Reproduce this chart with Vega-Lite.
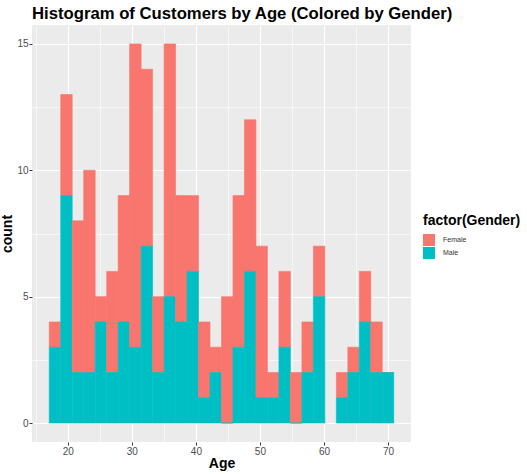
{
  "$schema": "https://vega.github.io/schema/vega-lite/v6.json",
  "width": 379,
  "height": 417,
  "autosize": "none",
  "padding": {"left": 32, "top": 25, "right": 116, "bottom": 32},
  "background": "white",
  "title": {
    "text": "Histogram of Customers by Age (Colored by Gender)",
    "anchor": "start",
    "frame": "group",
    "font": "Liberation Sans",
    "fontSize": 16.7,
    "fontWeight": "bold",
    "color": "black",
    "baseline": "alphabetic",
    "offset": 6,
    "dy": 17
  },
  "config": {
    "view": {"fill": "#EBEBEB", "stroke": null},
    "axis": {"domain": false}
  },
  "data": {
    "values": [
      {"bin_start": 17.103, "bin_end": 18.897, "gender": "Female", "count": 1},
      {"bin_start": 17.103, "bin_end": 18.897, "gender": "Male", "count": 3},
      {"bin_start": 18.897, "bin_end": 20.690, "gender": "Female", "count": 4},
      {"bin_start": 18.897, "bin_end": 20.690, "gender": "Male", "count": 9},
      {"bin_start": 20.690, "bin_end": 22.483, "gender": "Female", "count": 6},
      {"bin_start": 20.690, "bin_end": 22.483, "gender": "Male", "count": 2},
      {"bin_start": 22.483, "bin_end": 24.276, "gender": "Female", "count": 8},
      {"bin_start": 22.483, "bin_end": 24.276, "gender": "Male", "count": 2},
      {"bin_start": 24.276, "bin_end": 26.069, "gender": "Female", "count": 1},
      {"bin_start": 24.276, "bin_end": 26.069, "gender": "Male", "count": 4},
      {"bin_start": 26.069, "bin_end": 27.862, "gender": "Female", "count": 4},
      {"bin_start": 26.069, "bin_end": 27.862, "gender": "Male", "count": 2},
      {"bin_start": 27.862, "bin_end": 29.655, "gender": "Female", "count": 5},
      {"bin_start": 27.862, "bin_end": 29.655, "gender": "Male", "count": 4},
      {"bin_start": 29.655, "bin_end": 31.448, "gender": "Female", "count": 12},
      {"bin_start": 29.655, "bin_end": 31.448, "gender": "Male", "count": 3},
      {"bin_start": 31.448, "bin_end": 33.241, "gender": "Female", "count": 7},
      {"bin_start": 31.448, "bin_end": 33.241, "gender": "Male", "count": 7},
      {"bin_start": 33.241, "bin_end": 35.034, "gender": "Female", "count": 3},
      {"bin_start": 33.241, "bin_end": 35.034, "gender": "Male", "count": 2},
      {"bin_start": 35.034, "bin_end": 36.828, "gender": "Female", "count": 10},
      {"bin_start": 35.034, "bin_end": 36.828, "gender": "Male", "count": 5},
      {"bin_start": 36.828, "bin_end": 38.621, "gender": "Female", "count": 5},
      {"bin_start": 36.828, "bin_end": 38.621, "gender": "Male", "count": 4},
      {"bin_start": 38.621, "bin_end": 40.414, "gender": "Female", "count": 3},
      {"bin_start": 38.621, "bin_end": 40.414, "gender": "Male", "count": 6},
      {"bin_start": 40.414, "bin_end": 42.207, "gender": "Female", "count": 3},
      {"bin_start": 40.414, "bin_end": 42.207, "gender": "Male", "count": 1},
      {"bin_start": 42.207, "bin_end": 44.000, "gender": "Female", "count": 1},
      {"bin_start": 42.207, "bin_end": 44.000, "gender": "Male", "count": 2},
      {"bin_start": 44.000, "bin_end": 45.793, "gender": "Female", "count": 5},
      {"bin_start": 44.000, "bin_end": 45.793, "gender": "Male", "count": 0},
      {"bin_start": 45.793, "bin_end": 47.586, "gender": "Female", "count": 6},
      {"bin_start": 45.793, "bin_end": 47.586, "gender": "Male", "count": 3},
      {"bin_start": 47.586, "bin_end": 49.379, "gender": "Female", "count": 6},
      {"bin_start": 47.586, "bin_end": 49.379, "gender": "Male", "count": 6},
      {"bin_start": 49.379, "bin_end": 51.172, "gender": "Female", "count": 6},
      {"bin_start": 49.379, "bin_end": 51.172, "gender": "Male", "count": 1},
      {"bin_start": 51.172, "bin_end": 52.966, "gender": "Female", "count": 1},
      {"bin_start": 51.172, "bin_end": 52.966, "gender": "Male", "count": 1},
      {"bin_start": 52.966, "bin_end": 54.759, "gender": "Female", "count": 3},
      {"bin_start": 52.966, "bin_end": 54.759, "gender": "Male", "count": 3},
      {"bin_start": 54.759, "bin_end": 56.552, "gender": "Female", "count": 2},
      {"bin_start": 54.759, "bin_end": 56.552, "gender": "Male", "count": 0},
      {"bin_start": 56.552, "bin_end": 58.345, "gender": "Female", "count": 2},
      {"bin_start": 56.552, "bin_end": 58.345, "gender": "Male", "count": 2},
      {"bin_start": 58.345, "bin_end": 60.138, "gender": "Female", "count": 2},
      {"bin_start": 58.345, "bin_end": 60.138, "gender": "Male", "count": 5},
      {"bin_start": 61.931, "bin_end": 63.724, "gender": "Female", "count": 1},
      {"bin_start": 61.931, "bin_end": 63.724, "gender": "Male", "count": 1},
      {"bin_start": 63.724, "bin_end": 65.517, "gender": "Female", "count": 1},
      {"bin_start": 63.724, "bin_end": 65.517, "gender": "Male", "count": 2},
      {"bin_start": 65.517, "bin_end": 67.310, "gender": "Female", "count": 2},
      {"bin_start": 65.517, "bin_end": 67.310, "gender": "Male", "count": 4},
      {"bin_start": 67.310, "bin_end": 69.103, "gender": "Female", "count": 2},
      {"bin_start": 67.310, "bin_end": 69.103, "gender": "Male", "count": 2},
      {"bin_start": 69.103, "bin_end": 70.897, "gender": "Female", "count": 0},
      {"bin_start": 69.103, "bin_end": 70.897, "gender": "Male", "count": 2}
    ]
  },
  "transform": [
    {"stack": "count", "groupby": ["bin_start"], "sort": [{"field": "gender", "order": "descending"}], "as": ["count_lo", "count_hi"]}
  ],
  "mark": {"type": "bar", "strokeWidth": 0.6},
  "encoding": {
    "x": {
      "field": "bin_start",
      "type": "quantitative",
      "scale": {"domain": [14.41, 73.59], "nice": false, "zero": false},
      "axis": {
        "title": "Age",
        "titleFont": "Liberation Sans",
        "titleFontSize": 14,
        "titleFontWeight": "bold",
        "titleColor": "black",
        "titlePadding": 0,
        "values": [15, 20, 25, 30, 35, 40, 45, 50, 55, 60, 65, 70],
        "labelExpr": "datum.value % 10 === 0 ? datum.label : ''",
        "labelFont": "Liberation Sans",
        "labelFontSize": 10,
        "labelColor": "#4D4D4D",
        "labelPadding": 1,
        "tickColor": "#333333",
        "tickSize": 3,
        "tickOpacity": {"condition": {"test": "datum.value % 10 !== 0", "value": 0}, "value": 1},
        "grid": true,
        "gridColor": "white",
        "gridWidth": {"condition": {"test": "datum.value % 10 !== 0", "value": 0.55}, "value": 1.1}
      }
    },
    "x2": {"field": "bin_end"},
    "y": {
      "field": "count_hi",
      "type": "quantitative",
      "scale": {"domain": [-0.75, 15.75], "nice": false, "zero": false},
      "axis": {
        "title": "count",
        "titleFont": "Liberation Sans",
        "titleFontSize": 14,
        "titleFontWeight": "bold",
        "titleColor": "black",
        "titlePadding": 2,
        "values": [0, 2.5, 5, 7.5, 10, 12.5, 15],
        "labelExpr": "datum.value % 5 === 0 ? datum.label : ''",
        "labelFont": "Liberation Sans",
        "labelFontSize": 10,
        "labelColor": "#4D4D4D",
        "labelPadding": 1,
        "tickColor": "#333333",
        "tickSize": 3,
        "tickOpacity": {"condition": {"test": "datum.value % 5 !== 0", "value": 0}, "value": 1},
        "grid": true,
        "gridColor": "white",
        "gridWidth": {"condition": {"test": "datum.value % 5 !== 0", "value": 0.55}, "value": 1.1}
      }
    },
    "y2": {"field": "count_lo"},
    "color": {
      "field": "gender",
      "type": "nominal",
      "scale": {"domain": ["Female", "Male"], "range": ["#F8766D", "#00BFC4"]},
      "legend": {
        "title": "factor(Gender)",
        "orient": "none",
        "legendX": 391,
        "legendY": 189,
        "titleFont": "Liberation Sans",
        "titleFontSize": 14,
        "titleFontWeight": "bold",
        "titleColor": "black",
        "titlePadding": 6,
        "symbolType": "square",
        "symbolSize": 144,
        "symbolStrokeWidth": 0,
        "labelFont": "Liberation Sans",
        "labelFontSize": 7,
        "labelColor": "#333333",
        "labelOffset": 8,
        "rowPadding": 1
      }
    },
    "stroke": {
      "field": "gender",
      "type": "nominal",
      "scale": {"domain": ["Female", "Male"], "range": ["#F8766D", "#00BFC4"]},
      "legend": null
    }
  }
}
